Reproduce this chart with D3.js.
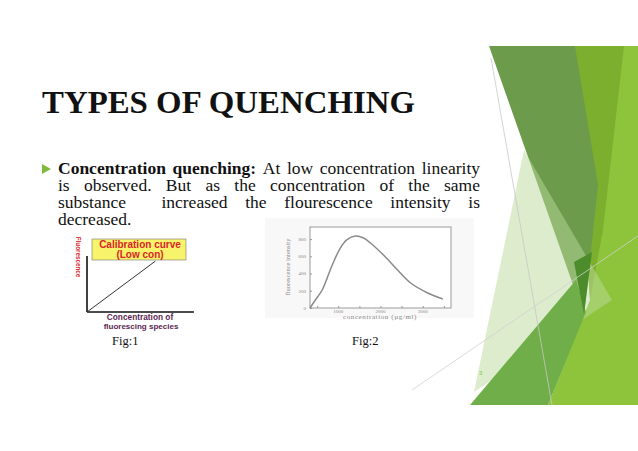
<!DOCTYPE html>
<html>
<head>
<meta charset="utf-8">
<script src="https://cdn.jsdelivr.net/npm/d3@7"></script>
<style>
  html, body { margin: 0; padding: 0; background: #fff; }
  svg { display: block; }
</style>
</head>
<body>
<div id="slide"></div>
<script>
// ---- data ----
// Fig 1: linear calibration line (arbitrary units)
var calX = [0, 6.4];
var calY = [0, 9.1];

// Fig 2: fluorescence intensity vs concentration (ug/ml)
var concX = [330, 460, 619, 857, 1048, 1200, 1405, 1600, 1762, 2071, 2405, 2714, 3119, 3476];
var fluoY = [0, 95, 209, 499, 696, 790, 835, 812, 754, 614, 441, 290, 174, 104];
var yTicks = [0, 200, 400, 600, 800];
var xTickLabels = [1000, 2000, 3000];
var xMinorTicks = [500, 1000, 1500, 2000, 2500, 3000, 3500];

// slide text ("" marks the double space after "substance")
var titleText = "TYPES OF QUENCHING";
var bodyLines = [
  [["Concentration", true], ["quenching:", true], ["At", false], ["low", false], ["concentration", false], ["linearity", false]],
  [["is", false], ["observed.", false], ["But", false], ["as", false], ["the", false], ["concentration", false], ["of", false], ["the", false], ["same", false]],
  [["substance", false], ["", false], ["increased", false], ["the", false], ["flourescence", false], ["intensity", false], ["is", false]],
  [["decreased.", false]]
];

var W = 638, H = 451;
var svg = d3.select("#slide").append("svg")
    .attr("width", W)
    .attr("height", H);

// ---- green decoration on the right (theme shapes) ----
var deco = svg.append("g");
var shapes = [
  {pts: [[575,46],[638,46],[638,405],[548,405],[590,300]], fill: "#8dc43c", op: 1},
  {pts: [[573,46],[624,46],[603,230],[590,300]], fill: "#7caf2e", op: 1},
  {pts: [[489,46],[575,46],[598,185],[584,316]], fill: "#6b9b4b", op: 1},
  {pts: [[524,150],[612,300],[474,392]], fill: "#bcd99a", op: 0.5},
  {pts: [[470,405],[576,280],[586,312],[548,405]], fill: "#6fae48", op: 1},
  {pts: [[574,262],[592,252],[584,314]], fill: "#4d8c2a", op: 1}
];
deco.selectAll("polygon")
    .data(shapes)
    .enter()
    .append("polygon")
    .attr("points", function(d) { return d.pts.map(function(p) { return p.join(","); }).join(" "); })
    .attr("fill", function(d) { return d.fill; })
    .attr("fill-opacity", function(d) { return d.op; });

// thin gray guide lines
deco.append("line")
    .attr("x1", 491).attr("y1", 58).attr("x2", 552).attr("y2", 405)
    .attr("stroke", "#c8c8c8").attr("stroke-width", 0.8);
deco.append("line")
    .attr("x1", 412).attr("y1", 390).attr("x2", 638).attr("y2", 236)
    .attr("stroke", "#d0d0d0").attr("stroke-width", 0.8);

// page number
svg.append("text")
    .attr("x", 479).attr("y", 375)
    .attr("font-family", "Liberation Sans, Arial, sans-serif")
    .attr("font-size", 6)
    .attr("fill", "#8dc43c")
    .text("3");

// ---- title ----
svg.append("text")
    .attr("x", 42).attr("y", 113)
    .attr("font-family", "Liberation Serif, Times New Roman, serif")
    .attr("font-weight", "bold")
    .attr("font-size", 32)
    .attr("fill", "#111")
    .attr("textLength", 373)
    .attr("lengthAdjust", "spacingAndGlyphs")
    .text(titleText);

// ---- bullet text ----
svg.append("polygon")
    .attr("points", "42,164 51,169 42,174")
    .attr("fill", "#7fb93e");

var textLeft = 58, textRight = 480, lineY0 = 174, lineGap = 17;
bodyLines.forEach(function(words, li) {
    var g = svg.append("g");
    var items = words.map(function(w) {
        return g.append("text")
            .attr("y", lineY0 + li * lineGap)
            .attr("font-family", "Liberation Serif, Times New Roman, serif")
            .attr("font-size", 17.5)
            .attr("font-weight", w[1] ? "bold" : "normal")
            .attr("fill", "#111")
            .text(w[0]);
    });
    var widths = items.map(function(t) { return t.node().getComputedTextLength(); });
    var total = d3.sum(widths);
    // last line is left aligned, others justified
    var gap = (li < bodyLines.length - 1 && items.length > 1)
        ? (textRight - textLeft - total) / (items.length - 1) : 4.3;
    var x = textLeft;
    items.forEach(function(t, i) {
        t.attr("x", x);
        x += widths[i] + gap;
    });
});

// ---- Fig 1: calibration curve ----
var f1 = svg.append("g");
var x1 = d3.scaleLinear().domain([0, 10]).range([87, 194]);
var y1 = d3.scaleLinear().domain([0, 10]).range([312, 256]);

f1.append("line")
    .attr("x1", x1(0)).attr("y1", y1(0)).attr("x2", x1(0)).attr("y2", y1(10))
    .attr("stroke", "#111").attr("stroke-width", 1.6);
f1.append("line")
    .attr("x1", x1(0)).attr("y1", y1(0)).attr("x2", x1(10)).attr("y2", y1(0))
    .attr("stroke", "#111").attr("stroke-width", 1.6);

var calData = calX.map(function(v, i) { return {x: v, y: calY[i]}; });
f1.append("path")
    .datum(calData)
    .attr("d", d3.line()
        .x(function(d) { return x1(d.x); })
        .y(function(d) { return y1(d.y); }))
    .attr("stroke", "#333")
    .attr("stroke-width", 1)
    .attr("fill", "none");

f1.append("rect")
    .attr("x", 92).attr("y", 239).attr("width", 94).attr("height", 21)
    .attr("fill", "#f7f36a").attr("stroke", "#777").attr("stroke-width", 0.6);
f1.append("text")
    .attr("x", 140).attr("y", 248)
    .attr("text-anchor", "middle")
    .attr("font-family", "Liberation Sans, Arial, sans-serif")
    .attr("font-weight", "bold").attr("font-size", 10)
    .attr("fill", "#d9252a")
    .text("Calibration curve");
f1.append("text")
    .attr("x", 140).attr("y", 257.5)
    .attr("text-anchor", "middle")
    .attr("font-family", "Liberation Sans, Arial, sans-serif")
    .attr("font-weight", "bold").attr("font-size", 10)
    .attr("fill", "#d9252a")
    .text("(Low con)");

f1.append("text")
    .attr("transform", "translate(76,257) rotate(90)")
    .attr("text-anchor", "middle")
    .attr("font-family", "Liberation Sans, Arial, sans-serif")
    .attr("font-weight", "bold").attr("font-size", 6.3)
    .attr("fill", "#d9252a")
    .text("Fluorescence");

f1.append("text")
    .attr("x", 140).attr("y", 319.5)
    .attr("text-anchor", "middle")
    .attr("font-family", "Liberation Sans, Arial, sans-serif")
    .attr("font-weight", "bold").attr("font-size", 8.3)
    .attr("fill", "#5b1f4f")
    .text("Concentration of");
f1.append("text")
    .attr("x", 141).attr("y", 329)
    .attr("text-anchor", "middle")
    .attr("font-family", "Liberation Sans, Arial, sans-serif")
    .attr("font-weight", "bold").attr("font-size", 8)
    .attr("fill", "#5b1f4f")
    .text("fluorescing species");

// ---- Fig 2: concentration quenching curve ----
var f2 = svg.append("g");
f2.append("rect")
    .attr("x", 265).attr("y", 218).attr("width", 209).attr("height", 100)
    .attr("fill", "#f8f8f8");

var x2 = d3.scaleLinear().domain([330, 3670]).range([310, 451]);
var y2 = d3.scaleLinear().domain([0, 940]).range([308, 227]);

f2.append("rect")
    .attr("x", 310).attr("y", 227).attr("width", 141).attr("height", 81)
    .attr("fill", "#fff").attr("stroke", "#9a9a9a").attr("stroke-width", 1);

var yAxis = f2.append("g")
    .attr("transform", "translate(310,0)")
    .call(d3.axisRight(y2).tickValues(yTicks).tickSize(2).tickFormat(""));
var xAxis = f2.append("g")
    .attr("transform", "translate(0,308)")
    .call(d3.axisTop(x2).tickValues(xMinorTicks).tickSize(2).tickFormat(""));
[yAxis, xAxis].forEach(function(a) {
    a.select(".domain").remove();
    a.selectAll("line").attr("stroke", "#999");
});

f2.selectAll(".ylab")
    .data(yTicks)
    .enter()
    .append("text")
    .attr("class", "ylab")
    .attr("x", 306)
    .attr("y", function(d) { return y2(d) + 1.8; })
    .attr("text-anchor", "end")
    .attr("font-family", "Liberation Serif, serif")
    .attr("font-size", 5)
    .attr("fill", "#888")
    .text(function(d) { return d; });

f2.selectAll(".xlab")
    .data(xTickLabels)
    .enter()
    .append("text")
    .attr("class", "xlab")
    .attr("x", function(d) { return x2(d); })
    .attr("y", 313)
    .attr("text-anchor", "middle")
    .attr("font-family", "Liberation Serif, serif")
    .attr("font-size", 5)
    .attr("fill", "#888")
    .text(function(d) { return d; });

f2.append("text")
    .attr("x", 380).attr("y", 319)
    .attr("text-anchor", "middle")
    .attr("font-family", "Liberation Serif, serif")
    .attr("font-size", 7)
    .attr("letter-spacing", 0.6)
    .attr("fill", "#888")
    .text("concentration (\u00b5g/ml)");

f2.append("text")
    .attr("transform", "translate(290,267) rotate(-90)")
    .attr("text-anchor", "middle")
    .attr("font-family", "Liberation Serif, serif")
    .attr("font-size", 6.5)
    .attr("fill", "#888")
    .text("fluorescence intensity");

var quenchData = concX.map(function(v, i) { return {x: v, y: fluoY[i]}; });
f2.append("path")
    .datum(quenchData)
    .attr("d", d3.line()
        .curve(d3.curveCatmullRom)
        .x(function(d) { return x2(d.x); })
        .y(function(d) { return y2(d.y); }))
    .attr("stroke", "#8a8a8a")
    .attr("stroke-width", 1.5)
    .attr("fill", "none");

// ---- captions ----
svg.append("text")
    .attr("x", 112).attr("y", 345)
    .attr("font-family", "Liberation Serif, Times New Roman, serif")
    .attr("font-size", 12.5)
    .attr("fill", "#111")
    .text("Fig:1");
svg.append("text")
    .attr("x", 352).attr("y", 345)
    .attr("font-family", "Liberation Serif, Times New Roman, serif")
    .attr("font-size", 12.5)
    .attr("fill", "#111")
    .text("Fig:2");
</script>
</body>
</html>
